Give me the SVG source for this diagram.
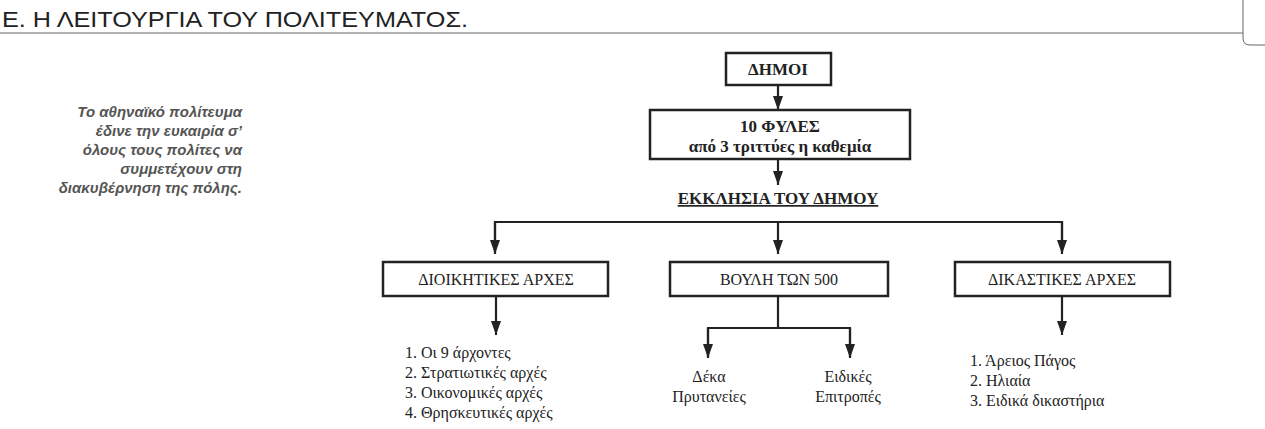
<svg xmlns="http://www.w3.org/2000/svg" width="1265" height="429" viewBox="0 0 1265 429">
<style>
.b{fill:#fff;stroke:#222;stroke-width:2.5}
.t{font-family:"Liberation Serif",serif;fill:#222;font-size:16px}
.h{font-weight:bold;font-size:17px}
.c{text-anchor:middle}
.l{stroke:#222;stroke-width:2.2;fill:none}
.s{font-family:"Liberation Sans",sans-serif;font-style:italic;font-weight:bold;fill:#555;font-size:15px;text-anchor:end}
</style>
<defs>
<marker id="d" markerWidth="10" markerHeight="14" refX="5" refY="14" markerUnits="userSpaceOnUse" viewBox="0 0 10 14"><path d="M0,0L10,0L5,14Z" fill="#222"/></marker></defs>
<rect width="1265" height="429" fill="#fff"/>
<g id="header">
<text x="2" y="27" font-family="Liberation Sans,sans-serif" font-size="22" fill="#222" textLength="466" lengthAdjust="spacingAndGlyphs">Ε. Η ΛΕΙΤΟΥΡΓΙΑ ΤΟΥ ΠΟΛΙΤΕΥΜΑΤΟΣ.</text>
<line x1="0" y1="33" x2="1243" y2="33" stroke="#666" stroke-width="1"/>
<path d="M1243,0V38Q1243,45 1250,45H1265" fill="none" stroke="#666"/>
</g>
<g id="side">
<text class="s"><tspan x="242" y="117">Το αθηναϊκό πολίτευμα</tspan><tspan x="242" y="136">έδινε την ευκαιρία σ’</tspan><tspan x="242" y="155">όλους τους πολίτες να</tspan><tspan x="242" y="174">συμμετέχουν στη</tspan><tspan x="242" y="193">διακυβέρνηση της πόλης.</tspan></text>
</g>
<g id="connectors">
<line class="l" x1="778" y1="85" x2="778" y2="110" marker-end="url(#d)"/>
<line class="l" x1="778" y1="159" x2="778" y2="185" marker-end="url(#d)"/>
<polyline class="l" points="495,252 495,222 1062,222 1062,252"/>
<line class="l" x1="495" y1="222" x2="495" y2="254" marker-end="url(#d)"/>
<line class="l" x1="778" y1="222" x2="778" y2="254" marker-end="url(#d)"/>
<line class="l" x1="1062" y1="222" x2="1062" y2="254" marker-end="url(#d)"/>
<line class="l" x1="496" y1="296" x2="496" y2="335" marker-end="url(#d)"/>
<line class="l" x1="1062" y1="296" x2="1062" y2="335" marker-end="url(#d)"/>
<line class="l" x1="778" y1="296" x2="778" y2="328"/>
<polyline class="l" points="708,357 708,328 850,328 850,357"/>
<line class="l" x1="708" y1="328" x2="708" y2="358" marker-end="url(#d)"/>
<line class="l" x1="850" y1="328" x2="850" y2="358" marker-end="url(#d)"/>
</g>
<g id="dimoi"><rect class="b" x="726" y="53" width="105" height="32"/><text class="t h c" x="778" y="75">ΔΗΜΟΙ</text></g>
<g id="fyles"><rect class="b" x="650" y="110" width="260" height="49"/><text class="t h c" x="780" y="132">10 ΦΥΛΕΣ</text><text class="t h c" x="780" y="152">από 3 τριττύες η καθεμία</text></g>
<g id="ekklisia"><text class="t h c" x="778" y="204" text-decoration="underline">ΕΚΚΛΗΣΙΑ ΤΟΥ ΔΗΜΟΥ</text></g>
<g id="dioikitikes"><rect class="b" x="383" y="262" width="225" height="34"/><text class="t c" x="496" y="285" font-size="17.5">ΔΙΟΙΚΗΤΙΚΕΣ ΑΡΧΕΣ</text></g>
<g id="vouli"><rect class="b" x="670" y="262" width="218" height="34"/><text class="t c" x="779" y="285" font-size="17.5">ΒΟΥΛΗ ΤΩΝ 500</text></g>
<g id="dikastikes"><rect class="b" x="955" y="262" width="215" height="34"/><text class="t c" x="1062" y="285" font-size="17.5">ΔΙΚΑΣΤΙΚΕΣ ΑΡΧΕΣ</text></g>
<g id="list1"><text class="t"><tspan x="405" y="358">1. Οι 9 άρχοντες</tspan><tspan x="405" y="378">2. Στρατιωτικές αρχές</tspan><tspan x="405" y="398">3. Οικονομικές αρχές</tspan><tspan x="405" y="418">4. Θρησκευτικές αρχές</tspan></text></g>
<g id="prytaneies"><text class="t c"><tspan x="709" y="382">Δέκα</tspan><tspan x="709" y="402">Πρυτανείες</tspan></text></g>
<g id="epitropes"><text class="t c"><tspan x="848" y="382">Ειδικές</tspan><tspan x="848" y="402">Επιτροπές</tspan></text></g>
<g id="list3"><text class="t"><tspan x="970" y="366">1. Άρειος Πάγος</tspan><tspan x="970" y="386">2. Ηλιαία</tspan><tspan x="970" y="406">3. Ειδικά δικαστήρια</tspan></text></g>
</svg>
